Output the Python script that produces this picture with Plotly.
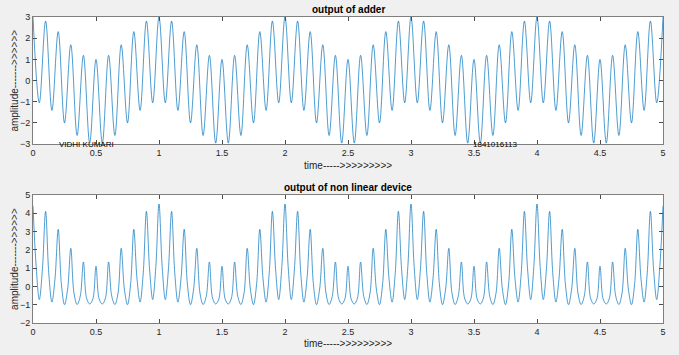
import plotly.graph_objects as go

# ---------------- data ----------------
# output of adder: times of the peaks / troughs and their values
t_ext = [0.00, 0.05, 0.10, 0.15, 0.20, 0.25, 0.30, 0.35, 0.40, 0.45,
         0.50, 0.55, 0.60, 0.65, 0.70, 0.75, 0.80, 0.85, 0.90, 0.95,
         1.00, 1.05, 1.10, 1.15, 1.20, 1.25, 1.30, 1.35, 1.40, 1.45,
         1.50, 1.55, 1.60, 1.65, 1.70, 1.75, 1.80, 1.85, 1.90, 1.95,
         2.00, 2.05, 2.10, 2.15, 2.20, 2.25, 2.30, 2.35, 2.40, 2.45,
         2.50, 2.55, 2.60, 2.65, 2.70, 2.75, 2.80, 2.85, 2.90, 2.95,
         3.00, 3.05, 3.10, 3.15, 3.20, 3.25, 3.30, 3.35, 3.40, 3.45,
         3.50, 3.55, 3.60, 3.65, 3.70, 3.75, 3.80, 3.85, 3.90, 3.95,
         4.00, 4.05, 4.10, 4.15, 4.20, 4.25, 4.30, 4.35, 4.40, 4.45,
         4.50, 4.55, 4.60, 4.65, 4.70, 4.75, 4.80, 4.85, 4.90, 4.95,
         5.00]

adder = [3.00, -1.05, 2.81, -1.41, 2.31, -2.00, 1.69, -2.59, 1.19, -2.95,
         1.00, -2.95, 1.19, -2.59, 1.69, -2.00, 2.31, -1.41, 2.81, -1.05,
         3.00, -1.05, 2.81, -1.41, 2.31, -2.00, 1.69, -2.59, 1.19, -2.95,
         1.00, -2.95, 1.19, -2.59, 1.69, -2.00, 2.31, -1.41, 2.81, -1.05,
         3.00, -1.05, 2.81, -1.41, 2.31, -2.00, 1.69, -2.59, 1.19, -2.95,
         1.00, -2.95, 1.19, -2.59, 1.69, -2.00, 2.31, -1.41, 2.81, -1.05,
         3.00, -1.05, 2.81, -1.41, 2.31, -2.00, 1.69, -2.59, 1.19, -2.95,
         1.00, -2.95, 1.19, -2.59, 1.69, -2.00, 2.31, -1.41, 2.81, -1.05,
         3.00, -1.05, 2.81, -1.41, 2.31, -2.00, 1.69, -2.59, 1.19, -2.95,
         1.00, -2.95, 1.19, -2.59, 1.69, -2.00, 2.31, -1.41, 2.81, -1.05,
         3.00]

# output of non linear device: peaks, troughs and the points half-way between them
t_nl = [0.000, 0.025, 0.050, 0.075, 0.100, 0.125, 0.150, 0.175, 0.200, 0.225,
        0.250, 0.275, 0.300, 0.325, 0.350, 0.375, 0.400, 0.425, 0.450, 0.475,
        0.500, 0.525, 0.550, 0.575, 0.600, 0.625, 0.650, 0.675, 0.700, 0.725,
        0.750, 0.775, 0.800, 0.825, 0.850, 0.875, 0.900, 0.925, 0.950, 0.975,
        1.000, 1.025, 1.050, 1.075, 1.100, 1.125, 1.150, 1.175, 1.200, 1.225,
        1.250, 1.275, 1.300, 1.325, 1.350, 1.375, 1.400, 1.425, 1.450, 1.475,
        1.500, 1.525, 1.550, 1.575, 1.600, 1.625, 1.650, 1.675, 1.700, 1.725,
        1.750, 1.775, 1.800, 1.825, 1.850, 1.875, 1.900, 1.925, 1.950, 1.975,
        2.000, 2.025, 2.050, 2.075, 2.100, 2.125, 2.150, 2.175, 2.200, 2.225,
        2.250, 2.275, 2.300, 2.325, 2.350, 2.375, 2.400, 2.425, 2.450, 2.475,
        2.500, 2.525, 2.550, 2.575, 2.600, 2.625, 2.650, 2.675, 2.700, 2.725,
        2.750, 2.775, 2.800, 2.825, 2.850, 2.875, 2.900, 2.925, 2.950, 2.975,
        3.000, 3.025, 3.050, 3.075, 3.100, 3.125, 3.150, 3.175, 3.200, 3.225,
        3.250, 3.275, 3.300, 3.325, 3.350, 3.375, 3.400, 3.425, 3.450, 3.475,
        3.500, 3.525, 3.550, 3.575, 3.600, 3.625, 3.650, 3.675, 3.700, 3.725,
        3.750, 3.775, 3.800, 3.825, 3.850, 3.875, 3.900, 3.925, 3.950, 3.975,
        4.000, 4.025, 4.050, 4.075, 4.100, 4.125, 4.150, 4.175, 4.200, 4.225,
        4.250, 4.275, 4.300, 4.325, 4.350, 4.375, 4.400, 4.425, 4.450, 4.475,
        4.500, 4.525, 4.550, 4.575, 4.600, 4.625, 4.650, 4.675, 4.700, 4.725,
        4.750, 4.775, 4.800, 4.825, 4.850, 4.875, 4.900, 4.925, 4.950, 4.975,
        5.000]

nonlinear = [4.40, 1.09, -0.72, 0.96, 4.10, 0.74, -0.86, 0.45, 3.12, 0.15,
             -1.00, -0.14, 2.08, -0.36, -0.99, -0.54, 1.33, -0.64, -0.96, -0.69,
             1.10, -0.69, -0.96, -0.64, 1.33, -0.54, -0.99, -0.36, 2.08, -0.14,
             -1.00, 0.15, 3.12, 0.45, -0.86, 0.74, 4.10, 0.96, -0.72, 1.09,
             4.50, 1.09, -0.72, 0.96, 4.10, 0.74, -0.86, 0.45, 3.12, 0.15,
             -1.00, -0.14, 2.08, -0.36, -0.99, -0.54, 1.33, -0.64, -0.96, -0.69,
             1.10, -0.69, -0.96, -0.64, 1.33, -0.54, -0.99, -0.36, 2.08, -0.14,
             -1.00, 0.15, 3.12, 0.45, -0.86, 0.74, 4.10, 0.96, -0.72, 1.09,
             4.50, 1.09, -0.72, 0.96, 4.10, 0.74, -0.86, 0.45, 3.12, 0.15,
             -1.00, -0.14, 2.08, -0.36, -0.99, -0.54, 1.33, -0.64, -0.96, -0.69,
             1.10, -0.69, -0.96, -0.64, 1.33, -0.54, -0.99, -0.36, 2.08, -0.14,
             -1.00, 0.15, 3.12, 0.45, -0.86, 0.74, 4.10, 0.96, -0.72, 1.09,
             4.50, 1.09, -0.72, 0.96, 4.10, 0.74, -0.86, 0.45, 3.12, 0.15,
             -1.00, -0.14, 2.08, -0.36, -0.99, -0.54, 1.33, -0.64, -0.96, -0.69,
             1.10, -0.69, -0.96, -0.64, 1.33, -0.54, -0.99, -0.36, 2.08, -0.14,
             -1.00, 0.15, 3.12, 0.45, -0.86, 0.74, 4.10, 0.96, -0.72, 1.09,
             4.50, 1.09, -0.72, 0.96, 4.10, 0.74, -0.86, 0.45, 3.12, 0.15,
             -1.00, -0.14, 2.08, -0.36, -0.99, -0.54, 1.33, -0.64, -0.96, -0.69,
             1.10, -0.69, -0.96, -0.64, 1.33, -0.54, -0.99, -0.36, 2.08, -0.14,
             -1.00, 0.15, 3.12, 0.45, -0.86, 0.74, 4.10, 0.96, -0.72, 1.09,
             4.40]

x_ticks = [0, 0.5, 1, 1.5, 2, 2.5, 3, 3.5, 4, 4.5, 5]
x_tick_text = ["0", "0.5", "1", "1.5", "2", "2.5", "3", "3.5", "4", "4.5", "5"]
y1_ticks = [-3, -2, -1, 0, 1, 2, 3]
y2_ticks = [-2, -1, 0, 1, 2, 3, 4, 5]

titles = ["output of adder", "output of non linear device"]
x_label = "time----->>>>>>>>>"
y_label = "amplitude------->>>>>>"
names = ["VIDHI KUMARI", "1841016113"]

# ---------------- layout geometry ----------------
W, H = 679, 355
L, R, T, B = 33, 16, 15, 32
plot_h = H - T - B


def py(px):  # pixel y -> paper y
    return (H - B - px) / plot_h


LINE = "#0072BD"
AX = "#262626"
FONT = "Liberation Sans, Arial, sans-serif"

fig = go.Figure()
fig.add_trace(go.Scatter(x=t_ext, y=adder, mode="lines",
                         line=dict(color=LINE, width=0.7, shape="spline", smoothing=1.0),
                         xaxis="x", yaxis="y", showlegend=False))
fig.add_trace(go.Scatter(x=t_nl, y=nonlinear, mode="lines",
                         line=dict(color=LINE, width=0.7, shape="spline", smoothing=1.0),
                         xaxis="x2", yaxis="y2", showlegend=False))

axis_common = dict(showgrid=False, zeroline=False, showline=True, linecolor="#7f7f7f",
                   linewidth=1, mirror="ticks", ticks="inside", ticklen=4,
                   tickcolor="#4d4d4d", tickfont=dict(size=9, color=AX, family=FONT))

fig.update_layout(
    width=W, height=H,
    margin=dict(l=L, r=R, t=T, b=B),
    paper_bgcolor="#f0f0f0", plot_bgcolor="white",
    font=dict(family=FONT, color=AX),
    xaxis=dict(domain=[0, 1], range=[0, 5], anchor="y", tickvals=x_ticks,
               ticktext=x_tick_text, **axis_common),
    yaxis=dict(domain=[py(143), 1], range=[-3, 3], anchor="x", tickvals=y1_ticks,
               **axis_common),
    xaxis2=dict(domain=[0, 1], range=[0, 5], anchor="y2", tickvals=x_ticks,
                ticktext=x_tick_text, **axis_common),
    yaxis2=dict(domain=[0, py(194)], range=[-2, 5], anchor="x2", tickvals=y2_ticks,
                **axis_common),
)

cx = 0.5
ann = []
ann.append(dict(text="<b>" + titles[0] + "</b>", x=cx, y=py(7), xref="paper", yref="paper",
                showarrow=False, font=dict(size=10, color="black"), xanchor="center", yanchor="middle"))
ann.append(dict(text="<b>" + titles[1] + "</b>", x=cx, y=py(187), xref="paper", yref="paper",
                showarrow=False, font=dict(size=10, color="black"), xanchor="center", yanchor="middle"))
ann.append(dict(text=x_label, x=cx, y=py(164), xref="paper", yref="paper",
                showarrow=False, font=dict(size=10, color=AX), xanchor="center", yanchor="middle"))
ann.append(dict(text=x_label, x=cx, y=py(344), xref="paper", yref="paper",
                showarrow=False, font=dict(size=10, color=AX), xanchor="center", yanchor="middle"))
for yc in [(15 + 143) / 2, (194 + 323) / 2]:
    ann.append(dict(text=y_label, x=-(L - 15) / (W - L - R), y=py(yc), xref="paper", yref="paper",
                    showarrow=False, textangle=-90, font=dict(size=10, color=AX),
                    xanchor="center", yanchor="middle"))
ann.append(dict(text=names[0], x=0.19, y=-3, xref="x", yref="y", showarrow=False,
                font=dict(size=8, color="black"), xanchor="left", yanchor="middle"))
ann.append(dict(text=names[1], x=3.48, y=-3, xref="x", yref="y", showarrow=False,
                font=dict(size=8, color="black"), xanchor="left", yanchor="middle"))
fig.update_layout(annotations=ann)

fig.write_html("out.html")
